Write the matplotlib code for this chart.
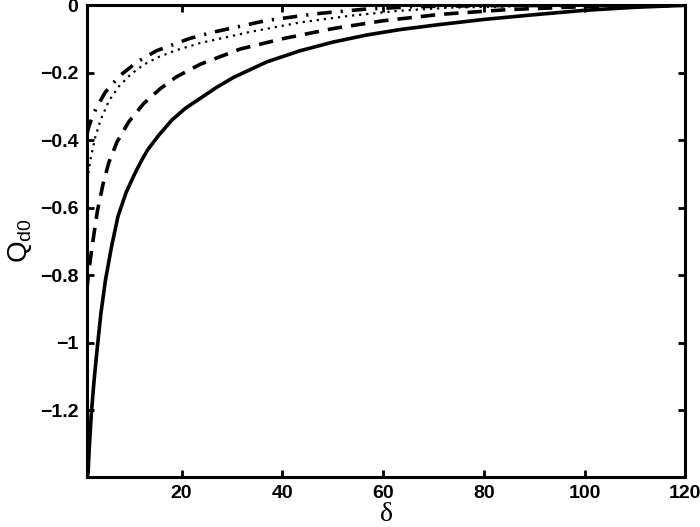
import matplotlib
matplotlib.use('Agg')
import matplotlib.pyplot as plt

plt.rcParams['mathtext.fontset'] = 'custom'
plt.rcParams['mathtext.rm'] = 'Liberation Sans'

# values
x_solid = [1.25, 1.45, 1.7, 2.1, 2.65, 3.3, 4.0, 4.9, 6.1, 7.4, 9.0, 10.7, 12.0, 13.3, 15.5, 18.1, 20.8,
           23.7, 27.0, 30.3, 36.9, 43.5, 50.1, 56.8, 63.4, 71.3, 80, 90, 100, 110, 120]
y_solid = [-1.398, -1.387, -1.31, -1.21, -1.111, -1.012, -0.913, -0.815, -0.716, -0.625, -0.555, -0.50, -0.462, -0.428, -0.385, -0.34, -0.305,
           -0.276, -0.243, -0.214, -0.168, -0.135, -0.109, -0.088, -0.072, -0.057, -0.042, -0.028, -0.015, -0.006, 0.0]

x_dash = [1.25, 1.5, 1.8, 2.4, 3.3, 4.5, 5.6, 7.2, 9.5, 12.5, 15.8, 19, 23.7, 31.6, 40.1,
          50.1, 60, 71.3, 84.6, 100, 120]
y_dash = [-0.84, -0.80, -0.765, -0.70, -0.61, -0.525, -0.465, -0.405, -0.346, -0.291, -0.247, -0.212, -0.175, -0.13, -0.099,
          -0.069, -0.046, -0.027, -0.013, -0.004, 0.0]

x_dot = [1.25, 1.5, 1.9, 2.9, 3.9, 5.6, 7.6, 9.9, 12.5, 15.5, 19, 23.7, 33.6, 43.5, 53.5, 63.4, 73.3, 90, 120]
y_dot = [-0.54, -0.50, -0.459, -0.39, -0.341, -0.283, -0.24, -0.205, -0.176, -0.153, -0.133, -0.112, -0.079, -0.051, -0.031, -0.016, -0.007, -0.002, 0.0]

x_dashdot = [1.25, 1.6, 2.3, 3.2, 4.9, 7.9, 11.2, 15, 21.7, 26.2, 36.9, 46.8, 56.8, 66.7, 80, 120]
y_dashdot = [-0.38, -0.36, -0.33, -0.301, -0.257, -0.207, -0.168, -0.135, -0.098, -0.08, -0.045, -0.025, -0.011, -0.004, -0.001, 0.0]

x_ticks = [20, 40, 60, 80, 100, 120]
y_ticks = [0, -0.2, -0.4, -0.6, -0.8, -1, -1.2]
y_ticklabels = ['0', '\u22120.2', '\u22120.4', '\u22120.6', '\u22120.8', '\u22121', '\u22121.2']

fig = plt.figure(figsize=(7, 5.27), dpi=100)
ax = fig.add_axes([0.124, 0.095, 0.855, 0.895])

ax.plot(x_solid, y_solid, 'k-', lw=2.6)
ax.plot(x_dash, y_dash, 'k--', lw=2.6, dashes=(4, 2.5))
ax.plot(x_dot, y_dot, 'k:', lw=1.6, dashes=(1, 2.2))
ax.plot(x_dashdot, y_dashdot, 'k-.', lw=2.6, dashes=(4, 2.5, 0.6, 2.5))

ax.set_xlim(1.2, 120)
ax.set_ylim(-1.398, 0)
ax.set_xticks(x_ticks)
ax.set_xticklabels([str(t) for t in x_ticks])
ax.set_yticks(y_ticks)
ax.set_yticklabels(y_ticklabels)

for s in ax.spines.values():
    s.set_linewidth(2.2)
ax.tick_params(direction='in', length=5, width=2, top=True, right=True, pad=6)
for lab in ax.get_xticklabels() + ax.get_yticklabels():
    lab.set_fontfamily('Liberation Sans')
    lab.set_fontweight('bold')
    lab.set_fontsize(14)

ax.set_xlabel('\u03b4', fontfamily='Liberation Serif', fontsize=20, labelpad=0)
ax.set_ylabel(r'Q$_{\mathrm{d0}}$', fontfamily='Liberation Sans', fontsize=20, labelpad=4)

fig.savefig('out.png', dpi=100)
